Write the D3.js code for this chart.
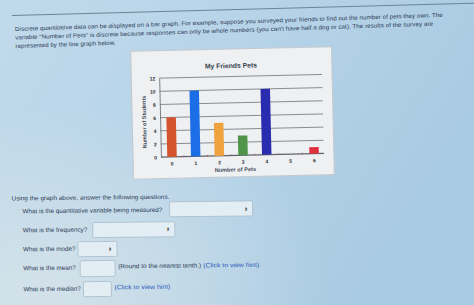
<!DOCTYPE html>
<html>
<head>
<meta charset="utf-8">
<script src="https://cdn.jsdelivr.net/npm/d3@7"></script>
<style>
	body { margin: 0; overflow: hidden; }
	svg text { font-family: "Liberation Sans", Arial, sans-serif; }
</style>
</head>
<body>
<svg id="page" width="474" height="305"></svg>
<script>
// data
const pets = [0, 1, 2, 3, 4, 5, 6];
const students = [6, 10, 5, 3, 10, 0, 1];
const barColors = ['#d4532f', '#1c6ee6', '#f0a23e', '#4f9448', '#2a2cb0', '#999999', '#e0303e'];
const yTicks = [0, 2, 4, 6, 8, 10, 12];

const introLines = [
	'Discrete quantitative data can be displayed on a bar graph. For example, suppose you surveyed your friends to find out the number of pets they own. The',
	'variable "Number of Pets" is discrete because responses can only be whole numbers (you can\'t have half a dog or cat). The results of the survey are',
	'represented by the line graph below.'
];
const questions = [
	{ q: 'What is the quantitative variable being measured?', y: 212, box: [170, 202, 83, 15], drop: true, note: null, hint: null },
	{ q: 'What is the frequency?', y: 231, box: [93, 222, 82, 15], drop: true, note: null, hint: null },
	{ q: 'What is the mode?', y: 250, box: [78, 241, 39, 15], drop: true, note: null, hint: null },
	{ q: 'What is the mean?', y: 269, box: [80, 260, 35, 16], drop: false, note: '(Round to the nearest tenth.)', hint: '(Click to view hint)' },
	{ q: 'What is the median?', y: 290, box: [83, 281, 28, 15], drop: false, note: null, hint: '(Click to view hint)' }
];

const svg = d3.select('#page');
const textColor = '#2e3b58';

// background
var defs = svg.append('defs');
var grad = defs.append('linearGradient').attr('id', 'bg')
	.attr('x1', 0).attr('y1', 0).attr('x2', 1).attr('y2', 0.4);
grad.append('stop').attr('offset', 0).attr('stop-color', '#c1daeb');
grad.append('stop').attr('offset', 0.6).attr('stop-color', '#b4d2e7');
grad.append('stop').attr('offset', 1).attr('stop-color', '#a8cae2');
var glow = defs.append('radialGradient').attr('id', 'glow')
	.attr('cx', 0.1).attr('cy', 0.95).attr('r', 0.6);
glow.append('stop').attr('offset', 0).attr('stop-color', '#dfe8ea').attr('stop-opacity', 0.7);
glow.append('stop').attr('offset', 1).attr('stop-color', '#dfe8ea').attr('stop-opacity', 0);
svg.append('rect').attr('width', 474).attr('height', 305).attr('fill', 'url(#bg)');
svg.append('rect').attr('width', 474).attr('height', 305).attr('fill', 'url(#glow)');

// header text, photo is a bit tilted
svg.append('line')
	.attr('x1', 12).attr('x2', 474).attr('y1', 15.5).attr('y2', 3.2)
	.attr('stroke', '#6c8595').attr('stroke-width', 1);
var header = svg.append('g').attr('transform', 'rotate(-1.9, 15, 30)');
header.selectAll('.intro')
	.data(introLines)
	.enter().append('text')
	.attr('class', 'intro')
	.attr('x', 15)
	.attr('y', function(d, i) { return 31 + i * 8.5; })
	.attr('font-size', 5.8)
	.attr('fill', textColor)
	.attr('textLength', function(d, i) { return [428, 418, 100][i]; })
	.attr('lengthAdjust', 'spacingAndGlyphs')
	.text(function(d) { return d; });

// chart panel
var chart = svg.append('g').attr('transform', 'rotate(-1.3, 232, 113)');
chart.append('rect')
	.attr('x', 132).attr('y', 49).attr('width', 201).attr('height', 128)
	.attr('fill', '#eef0f2').attr('stroke', '#c3cad2').attr('stroke-width', 1.2);

var x = d3.scaleBand()
	.domain(pets)
	.range([159.2, 325])
	.paddingInner(0.6)
	.paddingOuter(0.3);
var y = d3.scaleLinear()
	.domain([0, 12])
	.range([155.5, 76.5]);

chart.append('text')
	.attr('x', 232).attr('y', 68)
	.attr('text-anchor', 'middle')
	.attr('font-size', 6.8).attr('font-weight', 'bold')
	.attr('fill', '#363e4c')
	.text('My Friends Pets');

// gridlines
chart.selectAll('.grid')
	.data(yTicks)
	.enter().append('line')
	.attr('class', 'grid')
	.attr('x1', 160).attr('x2', 323)
	.attr('y1', function(d) { return y(d); })
	.attr('y2', function(d) { return y(d); })
	.attr('stroke', function(d) { return d == 0 ? '#5f646b' : '#7d8288'; })
	.attr('stroke-width', function(d) { return d == 0 ? 1.1 : 0.9; });

var yAxis = d3.axisLeft(y).tickValues(yTicks).tickSize(0).tickPadding(4);
var yG = chart.append('g').attr('transform', 'translate(160,0)').call(yAxis);
yG.select('.domain').attr('stroke', '#6f747a').attr('stroke-width', 0.9);
yG.selectAll('text').attr('font-size', 5).attr('font-weight', 'bold').attr('fill', '#2b2f36')
	.attr('font-family', '"Liberation Sans", Arial, sans-serif');

var xAxis = d3.axisBottom(x).tickSize(0).tickPadding(5);
var xG = chart.append('g').attr('transform', 'translate(0,' + y(0) + ')').call(xAxis);
xG.select('.domain').remove();
xG.selectAll('text').attr('font-size', 5).attr('font-weight', 'bold').attr('fill', '#2b2f36')
	.attr('font-family', '"Liberation Sans", Arial, sans-serif');

// small marks between the bars
chart.selectAll('.sep')
	.data(pets.slice(1))
	.enter().append('line')
	.attr('class', 'sep')
	.attr('x1', function(d) { return x(d) - x.step() * 0.3; })
	.attr('x2', function(d) { return x(d) - x.step() * 0.3; })
	.attr('y1', y(0) - 1.2).attr('y2', y(0) + 0.5)
	.attr('stroke', '#9a5a6a').attr('stroke-width', 0.8);

chart.selectAll('.bar')
	.data(pets)
	.enter().append('rect')
	.attr('class', 'bar')
	.attr('x', function(d) { return x(d); })
	.attr('width', x.bandwidth())
	.attr('y', function(d, i) { return y(students[i]); })
	.attr('height', function(d, i) { return y(0) - y(students[i]); })
	.attr('fill', function(d, i) { return barColors[i]; });

chart.append('text')
	.attr('x', 234).attr('y', 171.5)
	.attr('text-anchor', 'middle')
	.attr('font-size', 5.6).attr('font-weight', 'bold')
	.attr('fill', '#444c5a')
	.text('Number of Pets');

chart.append('text')
	.attr('transform', 'translate(146,120) rotate(-90)')
	.attr('text-anchor', 'middle')
	.attr('font-size', 5.5).attr('font-weight', 'bold')
	.attr('fill', '#444c5a')
	.text('Number of Students');

// questions
var qa = svg.append('g').attr('transform', 'rotate(-0.6, 150, 250)');
qa.append('text')
	.attr('x', 12).attr('y', 199)
	.attr('font-size', 6.2).attr('fill', textColor)
	.attr('textLength', 158).attr('lengthAdjust', 'spacingAndGlyphs')
	.text('Using the graph above, answer the following questions.');

var rows = qa.selectAll('.q')
	.data(questions)
	.enter().append('g')
	.attr('class', 'q');

rows.append('text')
	.attr('x', 23)
	.attr('y', function(d) { return d.y; })
	.attr('font-size', 6.3).attr('fill', textColor)
	.text(function(d) { return d.q; });

rows.append('rect')
	.attr('x', function(d) { return d.box[0]; })
	.attr('y', function(d) { return d.box[1]; })
	.attr('width', function(d) { return d.box[2]; })
	.attr('height', function(d) { return d.box[3]; })
	.attr('rx', 1.5)
	.attr('fill', '#e3eef4').attr('stroke', '#a9bccb').attr('stroke-width', 0.8);

rows.filter(function(d) { return d.drop; }).append('text')
	.attr('x', function(d) { return d.box[0] + d.box[2] - 7; })
	.attr('y', function(d) { return d.box[1] + d.box[3] / 2 + 2; })
	.attr('text-anchor', 'middle')
	.attr('font-size', 5).attr('fill', '#555')
	.text('\u2B0D');

rows.filter(function(d) { return d.note; }).append('text')
	.attr('x', function(d) { return d.box[0] + d.box[2] + 3; })
	.attr('y', function(d) { return d.y - 1; })
	.attr('font-size', 6.3).attr('fill', textColor)
	.attr('textLength', 83).attr('lengthAdjust', 'spacingAndGlyphs')
	.text(function(d) { return d.note; });

rows.filter(function(d) { return d.hint; }).append('text')
	.attr('x', function(d) { return d.note ? 203 : d.box[0] + d.box[2] + 3; })
	.attr('y', function(d) { return d.y - 1; })
	.attr('font-size', 6.3).attr('fill', '#2d5bb8')
	.attr('textLength', 56).attr('lengthAdjust', 'spacingAndGlyphs')
	.text(function(d) { return d.hint; });
</script>
</body>
</html>
